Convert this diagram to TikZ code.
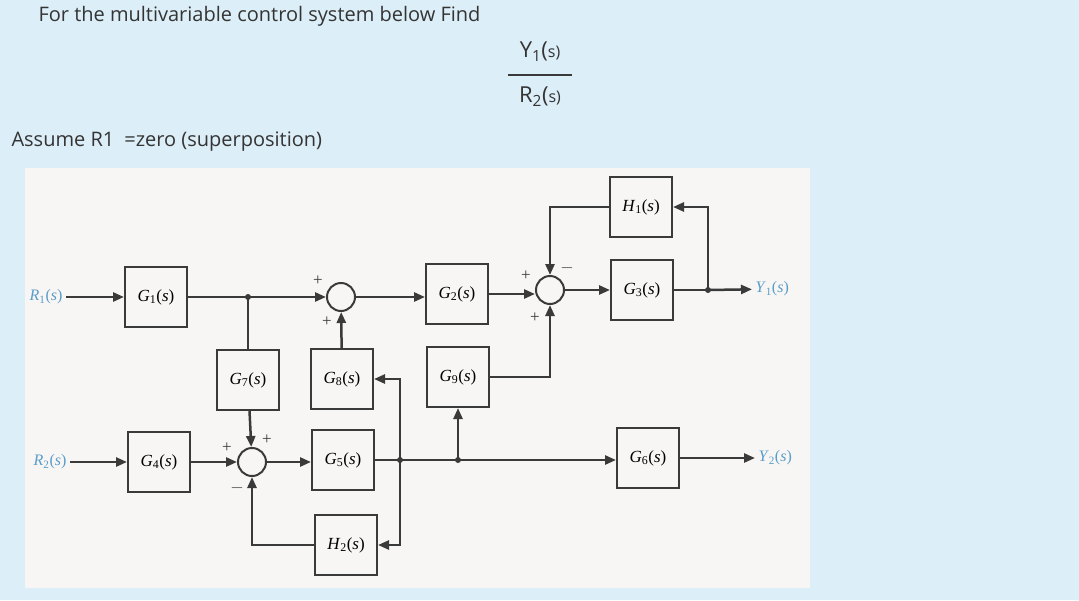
\documentclass[tikz,border=0pt]{standalone}
\usepackage{fontspec}
\newfontfamily\osans{Open Sans}
\setmainfont{Liberation Serif}
\usetikzlibrary{arrows.meta}
\definecolor{bg}{HTML}{DCEEF7}
\definecolor{panel}{HTML}{F7F6F4}
\definecolor{ink}{HTML}{3A3A3A}
\definecolor{lbl}{HTML}{5A9CC8}
\newcommand{\tf}[2]{\textit{#1}\textsubscript{#2}(\textit{s})}
\begin{document}
\begin{tikzpicture}[x=1pt,y=-1pt,
  blk/.style={draw=ink,line width=2pt,fill=panel,minimum width=62pt,minimum height=60pt,inner sep=0pt,font=\fontsize{17}{17}\selectfont},
  sum/.style={draw=ink,line width=2pt,circle,minimum size=28pt,inner sep=0pt},
  io/.style={font=\fontsize{16}{16}\selectfont,text=lbl},
  sg/.style={font=\fontsize{17}{17}\selectfont,text=ink},
  ln/.style={draw=ink,line width=2.5pt},
  ar/.style={ln,-{Triangle[length=11pt,width=9pt]}},
  dot/.style={circle,fill=ink,inner sep=0pt,minimum size=6pt}]
\fill[bg] (0,0) rectangle (1079,600);
\useasboundingbox (0,0) rectangle (1079,600);
\fill[panel] (25,168) rectangle (810,588);
\node[anchor=west,font=\osans\fontsize{20}{20}\selectfont,text=ink!90!black] (t1) at (35,16) {For the multivariable control system below Find};
\node[font=\osans\fontsize{22}{22}\selectfont,text=ink!90!black,inner sep=0pt] (fn) at (540,52) {Y\textsubscript{1}(\fontsize{16}{16}\selectfont s)};
\node[font=\osans\fontsize{22}{22}\selectfont,text=ink!90!black,inner sep=0pt] (fd) at (540,97) {R\textsubscript{2}(\fontsize{16}{16}\selectfont s)};
\draw[ink,line width=1.2pt] (508,75) -- (572,75);
\node[anchor=west,font=\osans\fontsize{20}{20}\selectfont,text=ink!90!black] (t2) at (8,142) {Assume R1\enspace =zero (superposition)};
% nodes
\node[io,anchor=east] (r1) at (66,297) {\tf{R}{1}};
\node[blk] (g1) at (156,297) {\tf{G}{1}};
\node[sum] (s1) at (341,297) {};
\node[blk] (g2) at (457,294) {\tf{G}{2}};
\node[sum] (s2) at (550,290) {};
\node[blk] (g3) at (642,290) {\tf{G}{3}};
\node[blk] (h1) at (641,207) {\tf{H}{1}};
\node[io,anchor=west] (y1) at (752,289) {\tf{Y}{1}};
\node[blk] (g7) at (248,380) {\tf{G}{7}};
\node[blk] (g8) at (342,379) {\tf{G}{8}};
\node[blk] (g9) at (458,377) {\tf{G}{9}};
\node[io,anchor=east] (r2) at (70,462) {\tf{R}{2}};
\node[blk] (g4) at (159,462) {\tf{G}{4}};
\node[sum] (s3) at (252,462) {};
\node[blk] (g5) at (343,460) {\tf{G}{5}};
\node[blk] (g6) at (648,458) {\tf{G}{6}};
\node[io,anchor=west] (y2) at (755,458) {\tf{Y}{2}};
\node[blk] (h2) at (346,545) {\tf{H}{2}};
\coordinate (j1) at (248,297);
\coordinate (jy) at (708,290);
\coordinate (j5) at (400,460);
\coordinate (j9) at (458,460);
% connectors
\draw[ar] (r1) -- (g1);
\draw[ln] (g1) -- (j1);
\draw[ar] (j1) -- (s1);
\draw[ln] (j1) -- (g7);
\draw[ar] (g7) -- (s3);
\draw[ar] (g8) -- (s1);
\draw[ar] (s1) -- (g2.west|-s1);
\draw[ar] (g2) -- (s2.west|-g2);
\draw[ar] (s2) -- (g3);
\draw[ln] (g3) -- (jy);
\draw[ar] (jy) -- (y1);
\draw[ar] (jy) |- (h1);
\draw[ar] (h1) -| (s2);
\draw[ar] (g9) -| (s2);
\draw[ar] (r2) -- (g4);
\draw[ar] (g4) -- (s3);
\draw[ar] (s3) -- (g5.west|-s3);
\draw[ln] (g5) -- (j5);
\draw[ln] (j5) -- (j9);
\draw[ar] (j9) -- (g6.west|-j9);
\draw[ar] (g6) -- (y2);
\draw[ar] (j9) -- (g9);
\draw[ar] (j5) |- (g8);
\draw[ar] (j5) |- (h2);
\draw[ar] (h2) -| (s3);
\node[dot] at (j1) {}; \node[dot] at (jy) {}; \node[dot] at (j5) {}; \node[dot] at (j9) {};
% signs
\node[sg] at (318,281) {+}; \node[sg] at (327,322) {+};
\node[sg] at (526,276) {+}; \node[sg] at (567,268) {$-$}; \node[sg] at (535,318) {+};
\node[sg] at (227,448) {+}; \node[sg] at (267,440) {+}; \node[sg] at (237,488) {$-$};
\end{tikzpicture}
\end{document}
